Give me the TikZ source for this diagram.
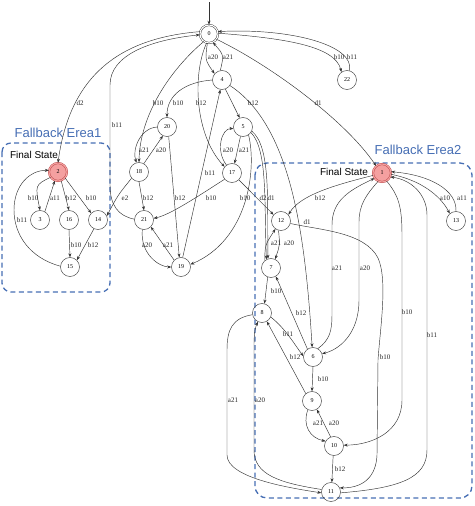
\documentclass[tikz,border=0pt]{standalone}
\usepackage{fontspec}
\setmainfont{Liberation Serif}
\newfontfamily\arialf{Liberation Sans}
\usetikzlibrary{arrows.meta}
\definecolor{boxblue}{RGB}{70,110,180}
\definecolor{redfill}{RGB}{244,160,160}
\definecolor{redline}{RGB}{185,70,70}
\begin{document}
\begin{tikzpicture}[x=1pt,y=-1pt,
  st/.style={circle,draw=black!80,line width=0.45pt,minimum size=19pt,inner sep=0pt,font=\fontsize{6}{6}\selectfont},
  acc/.style={st,double,double distance=1.1pt,minimum size=18pt},
  fin/.style={acc,draw=redline,fill=redfill,double=redfill},
  e/.style={draw=black!80,line width=0.45pt,-{Stealth[length=4pt,width=3pt]}},
  lbl/.style={font=\fontsize{7}{7}\selectfont,inner sep=0pt,text=black!85},
  fb/.style={draw=boxblue,line width=1.3pt,dash pattern=on 5pt off 3.5pt,rounded corners=9pt},
  fbtxt/.style={font=\arialf\fontsize{13}{13}\selectfont,text=boxblue,inner sep=0pt},
  fstxt/.style={font=\arialf\fontsize{10}{10}\selectfont,inner sep=0pt}]
\useasboundingbox (0,0) rectangle (474,506);
% fallback areas
\draw[fb] (2,143) rectangle (110,292);
\draw[fb,rounded corners=12pt] (255,163) rectangle (472,498);
\node[fbtxt] (fb1) at (58,133) {Fallback Erea1};
\node[fbtxt] (fb2) at (418,150) {Fallback Erea2};
\node[fstxt] (fs1) at (34,155) {Final State};
\node[fstxt] (fs2) at (344,172) {Final State};
% states
\node[acc] (n0) at (209,34) {0};
\node[st] (n4) at (222,80) {4};
\node[st] (n22) at (347,80) {22};
\node[st] (n20) at (167,127) {20};
\node[st] (n5) at (243,127) {5};
\node[st] (n18) at (139,172) {18};
\node[st] (n17) at (232,173) {17};
\node[fin] (n2) at (58,172) {2};
\node[st] (n3) at (40,220) {3};
\node[st] (n16) at (69,220) {16};
\node[st] (n14) at (98,220) {14};
\node[st] (n15) at (70,267) {15};
\node[st] (n21) at (144,220) {21};
\node[st] (n19) at (181,267) {19};
\node[fin] (n1) at (382,173) {1};
\node[st] (n12) at (281,221) {12};
\node[st] (n13) at (456,221) {13};
\node[st] (n7) at (271,268) {7};
\node[st] (n8) at (262,313) {8};
\node[st] (n6) at (313,357) {6};
\node[st] (n9) at (312,401) {9};
\node[st] (n10) at (334,446) {10};
\node[st] (n11) at (331,492) {11};
\coordinate (start) at (209,2);
% edges
\draw[e] (start) -- (n0);
\draw[e] (n0.-100) .. controls (205,60) .. (n4.140);
\draw[e] (n4.100) .. controls (224,55) .. (n0.-65);
\draw[e] (n0.5) .. controls (280,38) and (335,45) .. (n22.125);
\draw[e] (n22.75) .. controls (355,45) and (290,28) .. (n0.15);
\draw[e] (n0.-35) .. controls (270,65) and (345,120) .. (n1.130);
\draw[e] (n0.-125) .. controls (170,70) and (140,115) .. (n18.north);
\draw[e] (n4.180) .. controls (185,82) and (167,95) .. (n20.north);
\draw[e] (n0.-105) .. controls (192,75) and (195,135) .. (n17.140);
\draw[e] (n4.-70) -- (n5.110);
\draw[e] (n4.-35) .. controls (290,125) and (305,230) .. (n6.95);
\draw[e] (n19.80) -- (n4.-100);
\draw[e] (n21.175) .. controls (118,216) and (110,205) .. (110,185) -- (110,85) .. controls (110,55) and (150,40) .. (n0.185);
\draw[e] (n0.165) .. controls (120,38) and (70,75) .. (n2.north);
\draw[e] (n2.215) .. controls (35,185) .. (n3.north);
\draw[e] (n3.60) -- (n2.250);
\draw[e] (n2.-70) -- (n16.north);
\draw[e] (n2.-40) -- (n14.135);
\draw[e] (n16.south) -- (n15.north);
\draw[e] (n14.-115) -- (n15.45);
\draw[e] (n15.175) .. controls (30,258) and (14,235) .. (14,210) .. controls (14,185) and (30,170) .. (n2.170);
\draw[e] (n18.-140) .. controls (118,195) .. (n14.25);
\draw[e] (n18.south) -- (n21.north);
\draw[e] (n20.-80) -- (n19.100);
\draw[e] (n20.180) .. controls (140,128) and (132,150) .. (n18.105);
\draw[e] (n18.60) -- (n20.-115);
\draw[e] (n21.-100) .. controls (140,255) and (160,267) .. (n19.180);
\draw[e] (n19.135) -- (n21.-45);
\draw[e] (n17.-140) .. controls (200,195) and (170,215) .. (n21.10);
\draw[e] (n5.-55) .. controls (257,170) and (248,240) .. (n19.15);
\draw[e] (n17.-45) -- (n12.140);
\draw[e] (n5.-105) -- (n17.75);
\draw[e] (n17.125) .. controls (215,150) and (222,128) .. (n5.190);
\draw[e] (n5.-25) .. controls (271,147) and (267,200) .. (n7.108);
\draw[e] (n5.-35) .. controls (268,150) and (264,204) .. (n7.118);
\draw[e] (n1.195) .. controls (335,185) and (300,195) .. (n12.40);
\draw[e] (n12.-105) .. controls (280,245) .. (n7.65);
\draw[e] (n7.130) .. controls (265,245) .. (n12.-125);
\draw[e] (n12.-15) .. controls (320,230) and (365,232) .. (378,258) .. controls (388,280) and (380,330) .. (378,360) -- (377,455) .. controls (376,478) and (362,488) .. (n11.25);
\draw[e] (n1.-60) .. controls (398,195) and (402,205) .. (402,235) -- (402,400) .. controls (402,432) and (372,445) .. (n10.5);
\draw[e] (n11.-5) .. controls (400,488) and (427,478) .. (427,450) -- (427,215) .. controls (427,195) and (412,180) .. (n1.-25);
\draw[e] (n6.60) .. controls (330,340) and (332,330) .. (332,315) -- (332,225) .. controls (332,200) and (350,190) .. (n1.215);
\draw[e] (n1.245) .. controls (366,195) and (359,205) .. (359,222) -- (359,300) .. controls (359,335) and (338,350) .. (n6.20);
\draw[e] (n1.-8) .. controls (420,180) and (440,195) .. (n13.130);
\draw[e] (n13.north) .. controls (457,190) and (430,175) .. (n1.8);
\draw[e] (n7.-110) -- (n8.75);
\draw[e] (n6.125) -- (n7.-60);
\draw[e] (n8.-25) .. controls (285,328) and (295,345) .. (n6.175);
\draw[e] (n9.130) -- (n8.-60);
\draw[e] (n6.south) -- (n9.north);
\draw[e] (n9.-115) .. controls (302,425) and (310,438) .. (n10.150);
\draw[e] (n10.110) -- (n9.-60);
\draw[e] (n10.-95) -- (n11.85);
\draw[e] (n8.190) .. controls (232,318) and (227,330) .. (227,350) -- (227,455) .. controls (227,478) and (290,488) .. (n11.185);
\draw[e] (n11.165) .. controls (280,483) and (254,475) .. (254,450) -- (254,345) .. controls (254,330) and (256,326) .. (n8.245);
% labels
\node[lbl] (L1) at (213,57) {a20};
\node[lbl] (L2) at (228,57) {a21};
\node[lbl] (L3) at (339,57) {b10};
\node[lbl] (L4) at (352,57) {b11};
\node[lbl] (L5) at (318,103) {d1};
\node[lbl] (L6) at (80,103) {d2};
\node[lbl] (L7) at (117,125) {b11};
\node[lbl] (L8) at (158,103) {b10};
\node[lbl] (L9) at (178,103) {b10};
\node[lbl] (L10) at (201,103) {b12};
\node[lbl] (L11) at (253,103) {b12};
\node[lbl] (L12) at (144,150) {a21};
\node[lbl] (L13) at (161,150) {a20};
\node[lbl] (L14) at (228,150) {a20};
\node[lbl] (L15) at (244,150) {a21};
\node[lbl] (L16) at (210,173) {b11};
\node[lbl] (L17) at (33,198) {b10};
\node[lbl] (L18) at (55,198) {a11};
\node[lbl] (L19) at (71,198) {b12};
\node[lbl] (L20) at (91,198) {b10};
\node[lbl] (L21) at (125,198) {e2};
\node[lbl] (L22) at (148,198) {b12};
\node[lbl] (L23) at (180,198) {b12};
\node[lbl] (L24) at (211,198) {b10};
\node[lbl] (L25) at (245,198) {b10};
\node[lbl] (L26) at (263,198) {d2};
\node[lbl] (L27) at (271,198) {d1};
\node[lbl] (L28) at (320,198) {b12};
\node[lbl] (L29) at (445,198) {a10};
\node[lbl] (L30) at (462,198) {a11};
\node[lbl] (L31) at (307,222) {d1};
\node[lbl] (L32) at (22,220) {b11};
\node[lbl] (L33) at (76,245) {b10};
\node[lbl] (L34) at (93,245) {b12};
\node[lbl] (L35) at (147,245) {a20};
\node[lbl] (L36) at (168,245) {a21};
\node[lbl] (L37) at (276,243) {a21};
\node[lbl] (L38) at (289,243) {a20};
\node[lbl] (L39) at (337,268) {a21};
\node[lbl] (L40) at (365,268) {a20};
\node[lbl] (L41) at (276,291) {b10};
\node[lbl] (L42) at (407,312) {b10};
\node[lbl] (L43) at (301,313) {b12};
\node[lbl] (L44) at (288,334) {b11};
\node[lbl] (L45) at (432,335) {b11};
\node[lbl] (L46) at (295,357) {b12};
\node[lbl] (L47) at (385,357) {b10};
\node[lbl] (L48) at (323,379) {b10};
\node[lbl] (L49) at (233,400) {a21};
\node[lbl] (L50) at (260,400) {a20};
\node[lbl] (L51) at (318,423) {a21};
\node[lbl] (L52) at (334,423) {a20};
\node[lbl] (L53) at (340,469) {b12};
\end{tikzpicture}
\end{document}
